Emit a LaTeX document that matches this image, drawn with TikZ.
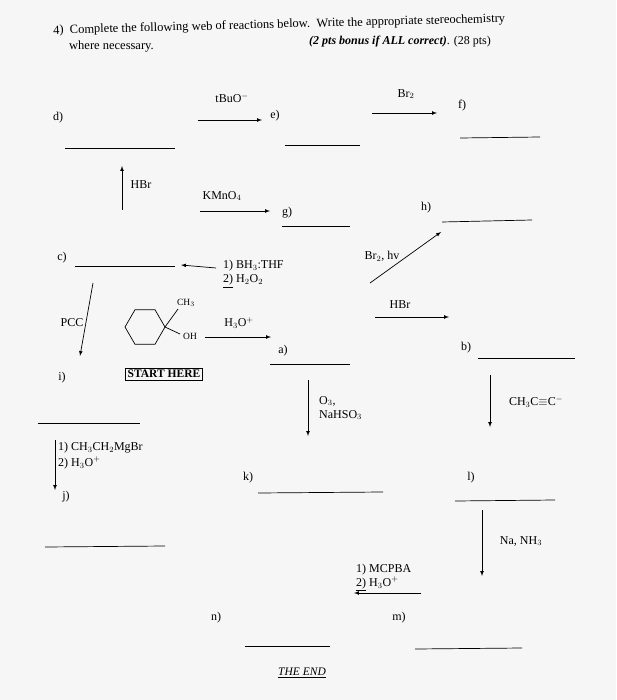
\documentclass[tikz,border=0pt]{standalone}
\usepackage{fontspec}
\setmainfont{Liberation Serif}
\begin{document}
\begin{tikzpicture}[x=1pt,y=-1pt,
  lbl/.style={font=\fontsize{12}{13}\selectfont,inner sep=1pt},
  ans/.style={line width=0.7pt},
  rx/.style={-latex,line width=0.7pt}]
\fill[white!93!gray] (0,0) rectangle (616,700);
\useasboundingbox (0,0) rectangle (616,700);
% title
\node[lbl,anchor=west,rotate=1.5,font=\fontsize{12.5}{13}\selectfont] (t1) at (52,31) {4)\ \ Complete the following web of reactions below.\ \ Write the appropriate stereochemistry};
\node[lbl,anchor=west,font=\fontsize{12.5}{13}\selectfont] (t2) at (68,47) {where necessary.};
\node[lbl,anchor=west,font=\fontsize{12}{13}\selectfont\itshape\bfseries] (t3) at (308,42) {(2 pts bonus if ALL correct)\textnormal{. (28 pts)}};
% blanks & labels
\node[lbl] (d) at (58,118) {d)}; \coordinate (d1) at (65,148); \coordinate (d2) at (175,148); \draw[ans] (d1)--(d2);
\node[lbl] (tbu) at (232,98) {tBuO$^{-}$}; \coordinate (a1s) at (198,120); \coordinate (a1e) at (262,120); \draw[rx] (a1s)--(a1e);
\node[lbl] (e) at (275,116) {e)}; \coordinate (e1) at (285,145); \coordinate (e2) at (360,145); \draw[ans] (e1)--(e2);
\node[lbl] (br2) at (406,94) {Br$_2$}; \coordinate (a2s) at (372,113); \coordinate (a2e) at (437,113); \draw[rx] (a2s)--(a2e);
\node[lbl] (f) at (462,106) {f)}; \coordinate (f1) at (460,138); \coordinate (f2) at (540,137); \draw[ans] (f1)--(f2);
\coordinate (h1s) at (122,210); \coordinate (h1e) at (122,166); \draw[rx] (h1s)--(h1e);
\node[lbl] (hbr1) at (141,185) {HBr};
\node[lbl] (kmn) at (222,196) {KMnO$_4$}; \coordinate (a3s) at (200,211); \coordinate (a3e) at (270,211); \draw[rx] (a3s)--(a3e);
\node[lbl] (g) at (287,213) {g)}; \coordinate (g1) at (282,226); \coordinate (g2) at (350,226); \draw[ans] (g1)--(g2);
\node[lbl] (h) at (426,208) {h)}; \coordinate (hh1) at (442,222); \coordinate (hh2) at (532,220); \draw[ans] (hh1)--(hh2);
\node[lbl] (c) at (62,258) {c)}; \coordinate (c1) at (75,266); \coordinate (c2) at (175,266); \draw[ans] (c1)--(c2);
\coordinate (a4s) at (216,268); \coordinate (a4e) at (181,265); \draw[rx] (a4s)--(a4e);
\node[lbl,anchor=west] (bh3) at (222,266) {1) BH$_3$:THF};
\node[lbl,anchor=west] (h2o2) at (222,281) {\underline{2)} H$_2$O$_2$};
\node[lbl] (brhv) at (382,256) {Br$_2$, hv}; \coordinate (a5s) at (370,283); \coordinate (a5e) at (441,232); \draw[rx] (a5s)--(a5e);
\node[lbl] (hbr2) at (400,305) {HBr}; \coordinate (a6s) at (375,317); \coordinate (a6e) at (449,317); \draw[rx] (a6s)--(a6e);
\node[lbl] (pcc) at (72,323) {PCC}; \coordinate (a7s) at (93,283); \coordinate (a7e) at (80,356); \draw[rx] (a7s)--(a7e);
% molecule
\draw[line width=0.7pt] (165,327)--(155,344.3)--(135,344.3)--(125,327)--(135,309.7)--(155,309.7)--cycle;
\draw[line width=0.7pt] (165,327)--(178,309); \draw[line width=0.7pt] (165,327)--(180,334);
\node[lbl,font=\fontsize{9.5}{10}\selectfont] (ch3) at (186,303) {CH$_3$};
\node[lbl,font=\fontsize{9.5}{10}\selectfont] (oh) at (190,336) {OH};
\node[lbl] (h3o1) at (239,323) {H$_3$O$^{+}$}; \coordinate (a8s) at (205,337); \coordinate (a8e) at (271,337); \draw[rx] (a8s)--(a8e);
\node[lbl] (a) at (283,351) {a)}; \coordinate (aa1) at (270,364); \coordinate (aa2) at (350,364); \draw[ans] (aa1)--(aa2);
\node[lbl] (b) at (466,348) {b)}; \coordinate (b1) at (478,358); \coordinate (b2) at (575,358); \draw[ans] (b1)--(b2);
\node[draw,lbl,font=\fontsize{11.5}{12}\selectfont\bfseries,inner sep=2pt,line width=0.7pt] (start) at (164,374) {START HERE};
\node[lbl] (i) at (62,378) {i)}; \coordinate (i1) at (38,423); \coordinate (i2) at (140,423); \draw[ans] (i1)--(i2);
\coordinate (a9s) at (308,380); \coordinate (a9e) at (308,436); \draw[rx] (a9s)--(a9e);
\node[lbl,anchor=west] (o3) at (318,401) {O$_3$,};
\node[lbl,anchor=west] (nahso) at (318,415) {NaHSO$_3$};
\coordinate (a10s) at (490,375); \coordinate (a10e) at (490,427); \draw[rx] (a10s)--(a10e);
\node[lbl] (ch3cc) at (536,402) {CH$_3$C$\equiv$C$^{-}$};
\node[lbl,anchor=west] (grig1) at (57,448) {1)\ CH$_3$CH$_2$MgBr};
\node[lbl,anchor=west] (grig2) at (57,463) {2)\ H$_3$O$^{+}$};
\coordinate (a11s) at (55,440); \coordinate (a11e) at (55,490); \draw[rx] (a11s)--(a11e);
\node[lbl] (j) at (66,497) {j)}; \coordinate (j1) at (45,547); \coordinate (j2) at (165,546); \draw[ans] (j1)--(j2);
\node[lbl] (k) at (248,478) {k)}; \coordinate (k1) at (258,493); \coordinate (k2) at (383,492); \draw[ans] (k1)--(k2);
\node[lbl] (l) at (471,478) {l)}; \coordinate (l1) at (455,501); \coordinate (l2) at (555,500); \draw[ans] (l1)--(l2);
\coordinate (a12s) at (482,510); \coordinate (a12e) at (482,576); \draw[rx] (a12s)--(a12e);
\node[lbl] (nanh) at (521,541) {Na, NH$_3$};
\node[lbl,anchor=west] (mc1) at (355,570) {1)\ MCPBA};
\node[lbl,anchor=west] (mc2) at (355,584) {\underline{2)}\ H$_3$O$^{+}$};
\coordinate (a13s) at (421,593); \coordinate (a13e) at (354,593); \draw[rx] (a13s)--(a13e);
\node[lbl] (n) at (216,618) {n)}; \coordinate (n1) at (245,646); \coordinate (n2) at (330,646); \draw[ans] (n1)--(n2);
\node[lbl] (m) at (399,618) {m)}; \coordinate (m1) at (415,649); \coordinate (m2) at (522,648); \draw[ans] (m1)--(m2);
\node[lbl,font=\fontsize{11.5}{12}\selectfont\itshape] (end) at (302,673) {\underline{THE END}};
\end{tikzpicture}
\end{document}
